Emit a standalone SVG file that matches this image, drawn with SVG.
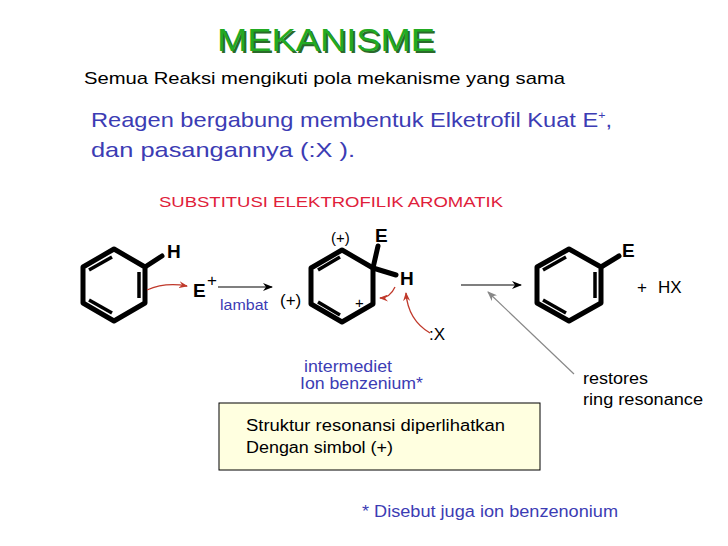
<svg xmlns="http://www.w3.org/2000/svg" width="728" height="546" viewBox="0 0 728 546">
<defs>
<marker id="ab" markerWidth="10" markerHeight="8" refX="9" refY="4" orient="auto" markerUnits="userSpaceOnUse"><path d="M0,0 L10,4 L0,8 L3,4 Z" fill="#000"/></marker>
<marker id="ar" markerWidth="9" markerHeight="7" refX="8" refY="3.5" orient="auto" markerUnits="userSpaceOnUse"><path d="M0,0 L9,3.5 L0,7 L3,3.5 Z" fill="#c0392b"/></marker>
<marker id="ag" markerWidth="10" markerHeight="8" refX="9" refY="4" orient="auto" markerUnits="userSpaceOnUse"><path d="M0,0 L10,4 L0,8 L3,4 Z" fill="#888"/></marker>
</defs>
<style>
text{font-family:"Liberation Sans",Arial,sans-serif}
.ring{fill:none;stroke:#000;stroke-width:5;stroke-linejoin:round}
.b{stroke:#000;stroke-width:5;fill:none;stroke-linecap:round}
.db{stroke:#000;stroke-width:3.5}
.at{font-size:19px;font-weight:bold}
.red{fill:none;stroke:#c0392b;stroke-width:1.3}
.blue{fill:#3c3cb4}
</style>
<rect width="728" height="546" fill="#fff"/>
<text x="219" y="53" font-size="31" fill="#2a6a2a" textLength="218" lengthAdjust="spacingAndGlyphs">MEKANISME</text>
<text x="217" y="51" font-size="31" fill="#22aa22" textLength="218" lengthAdjust="spacingAndGlyphs">MEKANISME</text>
<text x="84" y="84" font-size="17" textLength="481" lengthAdjust="spacingAndGlyphs">Semua Reaksi mengikuti pola mekanisme yang sama</text>
<text x="91" y="127" font-size="21" class="blue" textLength="521" lengthAdjust="spacingAndGlyphs">Reagen bergabung membentuk Elketrofil Kuat E<tspan font-size="11" dy="-8">+</tspan><tspan dy="8">,</tspan></text>
<text x="91" y="157" font-size="21" class="blue" textLength="264" lengthAdjust="spacingAndGlyphs">dan pasangannya (:X ).</text>
<text x="159" y="207" font-size="15" fill="#e0203a" textLength="344" lengthAdjust="spacingAndGlyphs">SUBSTITUSI ELEKTROFILIK  AROMATIK</text>
<g id="benzene">
<polygon class="ring" points="114,249 145,267 145,303 114,321 83,303 83,267"/>
<line class="db" x1="139" y1="272" x2="139" y2="298"/>
<line class="db" x1="89" y1="270" x2="112" y2="257"/>
<line class="db" x1="89" y1="300" x2="112" y2="313"/>
<line class="b" x1="145" y1="267" x2="162" y2="256"/>
<text class="at" x="167" y="258">H</text>
</g>
<g id="electrophile"><text class="at" x="193" y="297">E</text><text x="207" y="286" font-size="17">+</text></g>
<g id="intermediate">
<polygon class="ring" points="342,250 373,268 373,304 342,322 311,304 311,268"/>
<line class="db" x1="318" y1="270" x2="340" y2="257"/>
<line class="db" x1="318" y1="302" x2="340" y2="315"/>
<line class="b" x1="373" y1="268" x2="378" y2="246"/>
<line class="b" x1="373" y1="268" x2="396" y2="275"/>
<text class="at" x="375" y="242">E</text>
<text class="at" x="400" y="285">H</text>
<text x="331" y="243" font-size="15">(+)</text>
<text x="280" y="306" font-size="17">(+)</text>
<text x="355" y="308" font-size="15">+</text>
<text x="429" y="340" font-size="17">:X</text>
</g>
<g id="product">
<polygon class="ring" points="569,249 601,267 601,303 569,321 537,303 537,267"/>
<line class="db" x1="595" y1="272" x2="595" y2="298"/>
<line class="db" x1="543" y1="270" x2="566" y2="257"/>
<line class="db" x1="543" y1="300" x2="566" y2="313"/>
<line class="b" x1="601" y1="267" x2="619" y2="256"/>
<text class="at" x="622" y="257">E</text>
<text x="637" y="293" font-size="17">+</text>
<text x="658" y="293" font-size="17">HX</text>
</g>
<g id="connectors">
<path class="red" d="M147,290 Q165,282 187,286" marker-end="url(#ar)"/>
<line x1="218" y1="287" x2="272" y2="287" stroke="#000" stroke-width="1.2" marker-end="url(#ab)"/>
<path class="red" d="M395,287 Q390,298 380,298" marker-end="url(#ar)"/>
<path class="red" d="M430,333 Q408,320 406,293" marker-end="url(#ar)"/>
<line x1="461" y1="285" x2="521" y2="285" stroke="#000" stroke-width="1.2" marker-end="url(#ab)"/>
<line x1="574" y1="374" x2="488" y2="292" stroke="#888" stroke-width="1.2" marker-end="url(#ag)"/>
</g>
<text x="220" y="310" font-size="14" class="blue" textLength="48" lengthAdjust="spacingAndGlyphs">lambat</text>
<text x="304" y="372" font-size="16" class="blue" textLength="88" lengthAdjust="spacingAndGlyphs">intermediet</text>
<text x="300" y="389" font-size="16" class="blue" textLength="123" lengthAdjust="spacingAndGlyphs">Ion benzenium*</text>
<text x="583" y="384" font-size="16" textLength="65" lengthAdjust="spacingAndGlyphs">restores</text>
<text x="583" y="405" font-size="16" textLength="120" lengthAdjust="spacingAndGlyphs">ring resonance</text>
<g id="note">
<rect x="219" y="403" width="321" height="67" fill="#ffffe0" stroke="#000" stroke-width="1"/>
<text x="246" y="431" font-size="16" textLength="259" lengthAdjust="spacingAndGlyphs">Struktur resonansi  diperlihatkan</text>
<text x="246" y="453" font-size="16" textLength="147" lengthAdjust="spacingAndGlyphs">Dengan simbol (+)</text>
</g>
<text x="362" y="517" font-size="16" class="blue" textLength="256" lengthAdjust="spacingAndGlyphs">* Disebut juga ion benzenonium</text>
</svg>
